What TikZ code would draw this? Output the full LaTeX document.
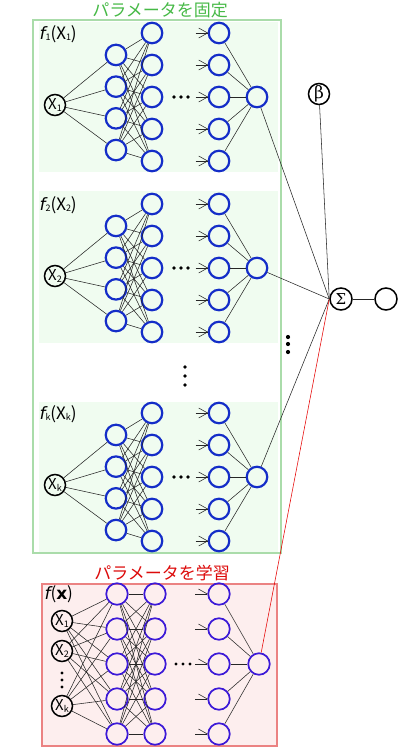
\documentclass[tikz,border=0pt]{standalone}
\usepackage{fontspec}
\setmainfont{Noto Sans CJK JP}
\newfontfamily\djv{DejaVu Sans}
\newfontfamily\grk{DejaVu Serif}
\definecolor{unitblue}{RGB}{20,45,200}
\definecolor{unitviolet}{RGB}{60,25,215}
\definecolor{fixline}{RGB}{170,220,170}
\definecolor{fixfill}{RGB}{240,252,240}
\definecolor{fixtext}{RGB}{70,185,70}
\definecolor{learnline}{RGB}{235,130,130}
\definecolor{learnfill}{RGB}{253,238,238}
\definecolor{learntext}{RGB}{220,10,10}
\newcommand\sub[1]{\raisebox{-0.15ex}{\fontsize{9}{9}\selectfont#1}}
\tikzset{
  unit/.style={circle, draw=unitblue, line width=2.2pt, minimum size=20.5pt, inner sep=0pt},
  vunit/.style={unit, draw=unitviolet, line width=1.7pt, minimum size=21.5pt},
  inp/.style={circle, draw, line width=1.5pt, minimum size=21pt, inner sep=0pt, font=\fontsize{15}{15}\selectfont},
  link/.style={draw=black!85, line width=0.55pt},
  dot/.style={circle, fill, inner sep=0pt, minimum size=3.8pt}
}
\begin{document}
\begin{tikzpicture}[x=1pt,y=-1pt]
\useasboundingbox (0,0) rectangle (411,750);
% frames
\fill[fixfill] (39,22) rectangle (278,172);
\fill[fixfill] (39,191) rectangle (278,343);
\fill[fixfill] (39,402) rectangle (278,552);
\draw[fixline, line width=1.3pt] (33,20) rectangle (281,553);
\filldraw[fill=learnfill, draw=learnline, line width=1.3pt] (42,584) rectangle (277,746);
\node[text=fixtext, font=\fontsize{17}{17}\selectfont] (fixtitle) at (160,10) {パラメータを固定};
\node[text=learntext, font=\fontsize{17}{17}\selectfont] (learntitle) at (162,573) {パラメータを学習};

% fixed sub-networks
\foreach \c/\k in {97/1,268/2,477/k}{
  \node[anchor=west, font=\fontsize{17}{17}\selectfont] (f\k) at (36,\c-63) {{\djv\itshape f}\sub{\k}(X\sub{\k})};
  \node[inp] (x\k) at (55,\c+8) {X\sub{\k}};
  \foreach \i in {1,...,4}
    \node[unit] (h\k-\i) at (116,{\c+5.5+31.7*(\i-2.5)}) {};
  \foreach \j in {1,...,5}{
    \node[unit] (g\k-\j) at (152,{\c+32*(\j-3)}) {};
    \node[unit] (l\k-\j) at (219,{\c+32*(\j-3)}) {};
  }
  \node[unit] (o\k) at (257,\c) {};
  \node[dot] (da\k) at (174,\c) {};
  \node[dot] (db\k) at (181,\c) {};
  \node[dot] (dc\k) at (188,\c) {};
  \foreach \i in {1,...,4}{
    \draw[link] (x\k) -- (h\k-\i);
    \foreach \j in {1,...,5}
      \draw[link] (h\k-\i) -- (g\k-\j);
  }
  \foreach \j in {1,...,5}{
    \draw[link] (l\k-\j) -- (o\k);
    \draw[link] ([xshift=-12pt]l\k-\j.west) -- (l\k-\j.west);
    \draw[link] ([shift={(-9,-5)}]l\k-\j.west) -- (l\k-\j.west);
    \draw[link] ([shift={(-9,5)}]l\k-\j.west) -- (l\k-\j.west);
  }
}
\node[dot] (vd1) at (185,367) {};
\node[dot] (vd2) at (185,376) {};
\node[dot] (vd3) at (185,385) {};

% trainable network
\node[anchor=west, font=\fontsize{17}{17}\selectfont] (fx) at (41,594) {{\djv\itshape f}({\djv\bfseries x})};
\node[inp] (r1) at (62,621) {X\sub{1}};
\node[inp] (r2) at (62,651) {X\sub{2}};
\node[inp] (rk) at (62,706) {X\sub{k}};
\node[dot, minimum size=3.2pt] (rd1) at (62,673) {};
\node[dot, minimum size=3.2pt] (rd2) at (62,680) {};
\node[dot, minimum size=3.2pt] (rd3) at (62,687) {};
\foreach \j in {1,...,5}{
  \node[vunit] (p\j) at (117,{664+35*(\j-3)}) {};
  \node[vunit] (q\j) at (155,{664+35*(\j-3)}) {};
  \node[vunit] (s\j) at (219,{664+35*(\j-3)}) {};
}
\node[vunit] (ro) at (259,664) {};
\node[dot, minimum size=3.2pt] (re1) at (176,664) {};
\node[dot, minimum size=3.2pt] (re2) at (183,664) {};
\node[dot, minimum size=3.2pt] (re3) at (190,664) {};
\foreach \j in {1,...,5}{
  \foreach \r in {r1,r2,rk}
    \draw[link] (\r) -- (p\j);
  \foreach \m in {1,...,5}
    \draw[link] (p\j) -- (q\m);
  \draw[link] (s\j) -- (ro);
  \draw[link] ([xshift=-12pt]s\j.west) -- (s\j.west);
  \draw[link] ([shift={(-9,-5)}]s\j.west) -- (s\j.west);
}

% combination
\node[inp, font=\fontsize{17}{17}\grk] (beta) at (319,94) {β};
\node[inp, minimum size=22pt, font=\fontsize{15}{15}\grk] (sig) at (341,299) {Σ};
\node[inp, minimum size=22pt] (out) at (386,299) {};
\node[dot, minimum size=4.2pt] (sd1) at (288,337) {};
\node[dot, minimum size=4.2pt] (sd2) at (288,344) {};
\node[dot, minimum size=4.2pt] (sd3) at (288,352) {};
\draw[link] (beta) -- (sig.west);
\draw[link] (o1) -- (sig.west);
\draw[link] (o2) -- (sig.west);
\draw[link] (ok) -- (sig.west);
\draw[link, draw=red!90!black] (ro) -- (sig.west);
\draw[link, line width=0.7pt] (sig) -- (out);
\end{tikzpicture}
\end{document}
